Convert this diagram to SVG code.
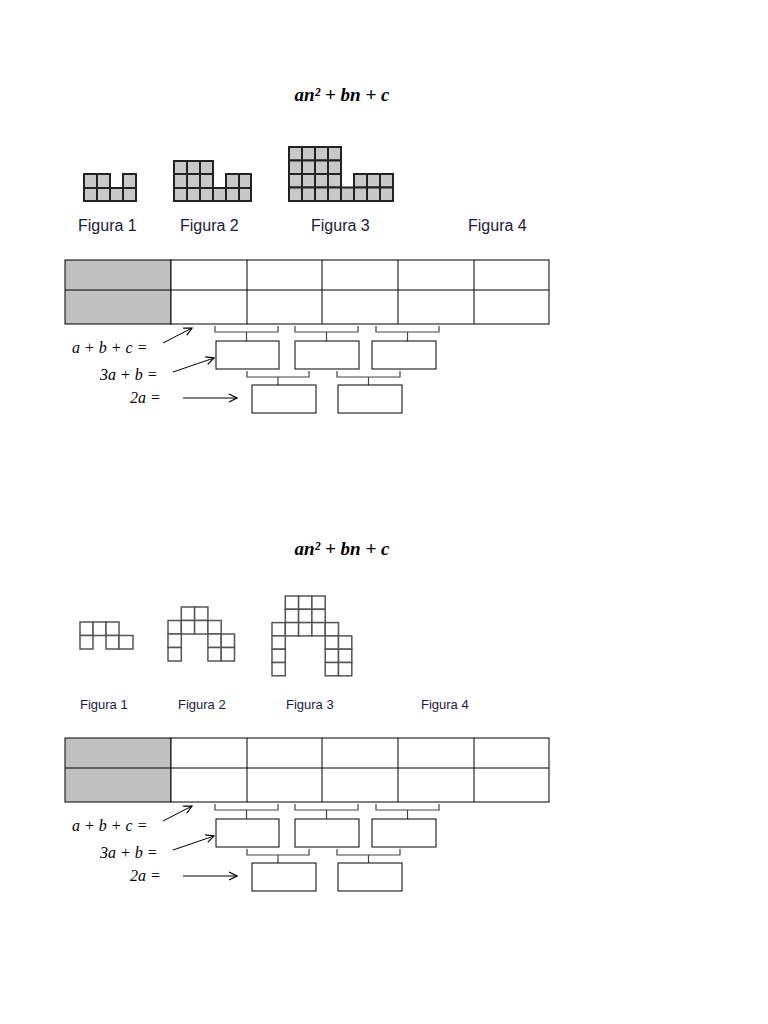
<svg xmlns="http://www.w3.org/2000/svg" width="768" height="1024" viewBox="0 0 768 1024">
<style>
.t{font-family:"Liberation Serif",serif;font-style:italic;font-weight:bold;font-size:19px;fill:#000}
.m{font-family:"Liberation Serif",serif;font-style:italic;font-size:16px;fill:#000}
.f{font-family:"Liberation Sans",Arial,sans-serif;font-size:16px;fill:#1a1a3a}
.fs{font-family:"Liberation Sans",Arial,sans-serif;font-size:13px;fill:#1a1a3a}
.g{fill:#c8c8c8;stroke:#222;stroke-width:2}
.w{fill:#fff;stroke:#555;stroke-width:1.5}
.tb{fill:#fff;stroke:#000;stroke-width:1}
.hd{fill:#c0c0c0;stroke:#000;stroke-width:1}
.ln{fill:none;stroke:#000;stroke-width:1}
.br{fill:none;stroke:#444;stroke-width:1.2}
</style>
<defs>
<marker id="ar" markerWidth="10" markerHeight="10" refX="9" refY="5" orient="auto" markerUnits="userSpaceOnUse">
<path d="M1,1 L9,5 L1,9" fill="none" stroke="#000" stroke-width="1.2"/>
</marker>
<g id="sheet">
<g id="table">
<rect class="hd" x="65" y="260" width="106" height="64"/>
<rect class="tb" x="171" y="260" width="378" height="64"/>
<line class="ln" x1="65" y1="290" x2="549" y2="290"/>
<line class="ln" x1="247" y1="260" x2="247" y2="324"/>
<line class="ln" x1="322" y1="260" x2="322" y2="324"/>
<line class="ln" x1="398" y1="260" x2="398" y2="324"/>
<line class="ln" x1="474" y1="260" x2="474" y2="324"/>
</g>
<g id="braces">
<path class="br" d="M215,326 v6 h63 v-6 M246.5,332 v9"/>
<path class="br" d="M295,326 v6 h63 v-6 M326.5,332 v9"/>
<path class="br" d="M376,326 v6 h63 v-6 M407.5,332 v9"/>
<path class="br" d="M247,371 v6 h62 v-6 M278,377 v8"/>
<path class="br" d="M337,371 v6 h63 v-6 M368.5,377 v8"/>
</g>
<g id="boxes">
<rect class="tb" x="216" y="341" width="63" height="28"/>
<rect class="tb" x="295" y="341" width="64" height="28"/>
<rect class="tb" x="372" y="341" width="64" height="28"/>
<rect class="tb" x="252" y="385" width="64" height="28"/>
<rect class="tb" x="338" y="385" width="64" height="28"/>
</g>
<g id="arrows">
<line class="ln" x1="163" y1="343" x2="192" y2="328" marker-end="url(#ar)"/>
<line class="ln" x1="173" y1="372" x2="214" y2="358" marker-end="url(#ar)"/>
<line class="ln" x1="183" y1="398" x2="237" y2="398" marker-end="url(#ar)"/>
</g>
<text class="m" x="72" y="353">a + b + c =</text>
<text class="m" x="100" y="380">3a + b =</text>
<text class="m" x="130" y="403">2a =</text>
</g>
</defs>

<text class="t" x="342" y="101" text-anchor="middle">an² + bn + c</text>
<g id="fig1top">
<rect class="g" x="84" y="174" width="13" height="14"/><rect class="g" x="97" y="174" width="13" height="14"/><rect class="g" x="123" y="174" width="13" height="14"/>
<rect class="g" x="84" y="188" width="13" height="13"/><rect class="g" x="97" y="188" width="13" height="13"/><rect class="g" x="110" y="188" width="13" height="13"/><rect class="g" x="123" y="188" width="13" height="13"/>
</g>
<g id="fig2top">
<rect class="g" x="174" y="161" width="13" height="13"/><rect class="g" x="187" y="161" width="13" height="13"/><rect class="g" x="200" y="161" width="13" height="13"/>
<rect class="g" x="174" y="174" width="13" height="14"/><rect class="g" x="187" y="174" width="13" height="14"/><rect class="g" x="200" y="174" width="13" height="14"/><rect class="g" x="226" y="174" width="13" height="14"/><rect class="g" x="239" y="174" width="12" height="14"/>
<rect class="g" x="174" y="188" width="13" height="13"/><rect class="g" x="187" y="188" width="13" height="13"/><rect class="g" x="200" y="188" width="13" height="13"/><rect class="g" x="213" y="188" width="13" height="13"/><rect class="g" x="226" y="188" width="13" height="13"/><rect class="g" x="239" y="188" width="12" height="13"/>
</g>
<g id="fig3top">
<rect class="g" x="289" y="147" width="13" height="13.5"/><rect class="g" x="302" y="147" width="13" height="13.5"/><rect class="g" x="315" y="147" width="13" height="13.5"/><rect class="g" x="328" y="147" width="13" height="13.5"/>
<rect class="g" x="289" y="160.5" width="13" height="13.5"/><rect class="g" x="302" y="160.5" width="13" height="13.5"/><rect class="g" x="315" y="160.5" width="13" height="13.5"/><rect class="g" x="328" y="160.5" width="13" height="13.5"/>
<rect class="g" x="289" y="174" width="13" height="13.5"/><rect class="g" x="302" y="174" width="13" height="13.5"/><rect class="g" x="315" y="174" width="13" height="13.5"/><rect class="g" x="328" y="174" width="13" height="13.5"/><rect class="g" x="354" y="174" width="13" height="13.5"/><rect class="g" x="367" y="174" width="13" height="13.5"/><rect class="g" x="380" y="174" width="13" height="13.5"/>
<rect class="g" x="289" y="187.5" width="13" height="13.5"/><rect class="g" x="302" y="187.5" width="13" height="13.5"/><rect class="g" x="315" y="187.5" width="13" height="13.5"/><rect class="g" x="328" y="187.5" width="13" height="13.5"/><rect class="g" x="341" y="187.5" width="13" height="13.5"/><rect class="g" x="354" y="187.5" width="13" height="13.5"/><rect class="g" x="367" y="187.5" width="13" height="13.5"/><rect class="g" x="380" y="187.5" width="13" height="13.5"/>
</g>
<text class="f" x="78" y="231">Figura 1</text>
<text class="f" x="180" y="231">Figura 2</text>
<text class="f" x="311" y="231">Figura 3</text>
<text class="f" x="468" y="231">Figura 4</text>
<use href="#sheet"/>

<text class="t" x="342" y="555" text-anchor="middle">an² + bn + c</text>
<g id="fig1bot">
<rect class="w" x="80" y="622" width="13" height="13.5"/><rect class="w" x="93" y="622" width="13" height="13.5"/><rect class="w" x="106" y="622" width="13" height="13.5"/>
<rect class="w" x="80" y="635.5" width="13" height="13.5"/><rect class="w" x="106" y="635.5" width="13" height="13.5"/><rect class="w" x="119" y="635.5" width="14" height="13.5"/>
</g>
<g id="fig2bot">
<rect class="w" x="181.3" y="607" width="13.3" height="13.5"/><rect class="w" x="194.6" y="607" width="13.3" height="13.5"/>
<rect class="w" x="168" y="620.5" width="13.3" height="13.5"/><rect class="w" x="181.3" y="620.5" width="13.3" height="13.5"/><rect class="w" x="194.6" y="620.5" width="13.3" height="13.5"/><rect class="w" x="207.9" y="620.5" width="13.3" height="13.5"/>
<rect class="w" x="168" y="634" width="13.3" height="13.5"/><rect class="w" x="207.9" y="634" width="13.3" height="13.5"/><rect class="w" x="221.2" y="634" width="13.3" height="13.5"/>
<rect class="w" x="168" y="647.5" width="13.3" height="13.5"/><rect class="w" x="207.9" y="647.5" width="13.3" height="13.5"/><rect class="w" x="221.2" y="647.5" width="13.3" height="13.5"/>
</g>
<g id="fig3bot">
<rect class="w" x="285.3" y="596" width="13.3" height="13.3"/><rect class="w" x="298.6" y="596" width="13.3" height="13.3"/><rect class="w" x="311.9" y="596" width="13.3" height="13.3"/>
<rect class="w" x="285.3" y="609.3" width="13.3" height="13.3"/><rect class="w" x="298.6" y="609.3" width="13.3" height="13.3"/><rect class="w" x="311.9" y="609.3" width="13.3" height="13.3"/>
<rect class="w" x="272" y="622.6" width="13.3" height="13.3"/><rect class="w" x="285.3" y="622.6" width="13.3" height="13.3"/><rect class="w" x="298.6" y="622.6" width="13.3" height="13.3"/><rect class="w" x="311.9" y="622.6" width="13.3" height="13.3"/><rect class="w" x="325.2" y="622.6" width="13.3" height="13.3"/>
<rect class="w" x="272" y="635.9" width="13.3" height="13.3"/><rect class="w" x="325.2" y="635.9" width="13.3" height="13.3"/><rect class="w" x="338.5" y="635.9" width="13.3" height="13.3"/>
<rect class="w" x="272" y="649.2" width="13.3" height="13.3"/><rect class="w" x="325.2" y="649.2" width="13.3" height="13.3"/><rect class="w" x="338.5" y="649.2" width="13.3" height="13.3"/>
<rect class="w" x="272" y="662.5" width="13.3" height="13.3"/><rect class="w" x="325.2" y="662.5" width="13.3" height="13.3"/><rect class="w" x="338.5" y="662.5" width="13.3" height="13.3"/>
</g>
<text class="fs" x="80" y="709">Figura 1</text>
<text class="fs" x="178" y="709">Figura 2</text>
<text class="fs" x="286" y="709">Figura 3</text>
<text class="fs" x="421" y="709">Figura 4</text>
<use href="#sheet" transform="translate(0,478)"/>
</svg>
